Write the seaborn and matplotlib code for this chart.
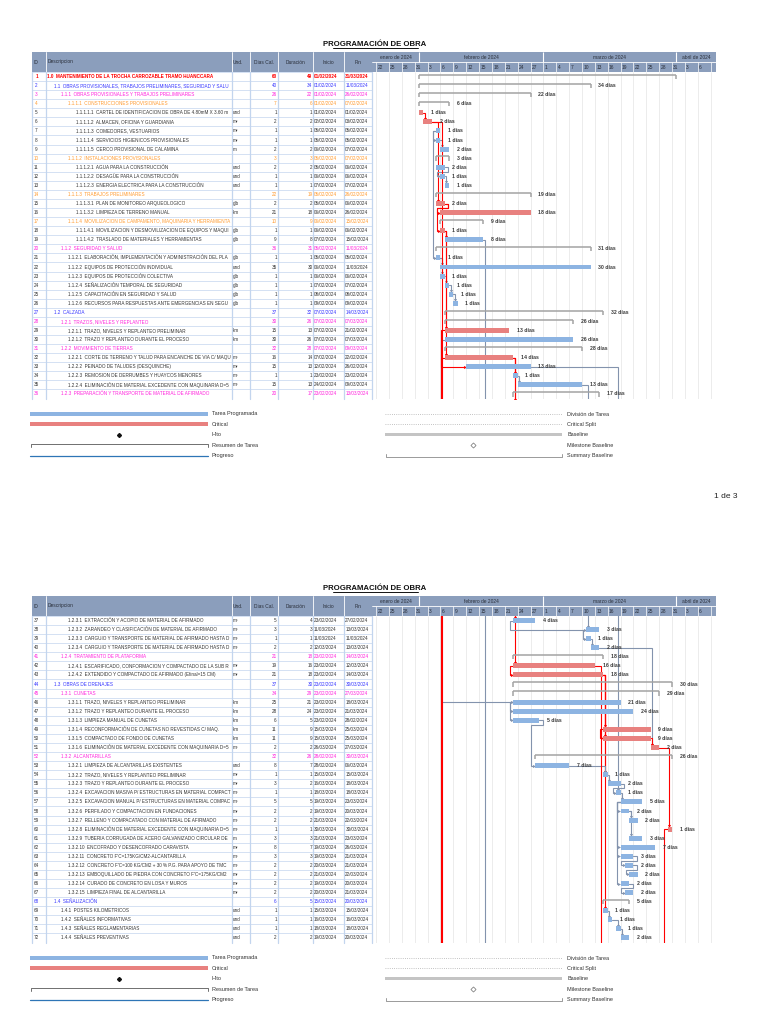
import numpy as np
import pandas as pd
import matplotlib
matplotlib.use("Agg")
import matplotlib.pyplot as plt
import matplotlib.dates as mdates
from matplotlib.patches import Rectangle
import seaborn as sns

sns.set_theme(style="white")
plt.rcParams['font.family'] = ['Liberation Sans', 'DejaVu Sans']

# ------------------------------------------------------------------
# Datos del cronograma (leidos de la programacion de obra)
# ------------------------------------------------------------------
codigos = [
    "1.0", "1.1", "1.1.1", "1.1.1.1", "1.1.1.1.1", "1.1.1.1.2", "1.1.1.1.3", "1.1.1.1.4",
    "1.1.1.1.5", "1.1.1.2", "1.1.1.2.1", "1.1.1.2.2", "1.1.1.2.3", "1.1.1.3", "1.1.1.3.1",
    "1.1.1.3.2", "1.1.1.4", "1.1.1.4.1", "1.1.1.4.2", "1.1.2", "1.1.2.1", "1.1.2.2", "1.1.2.3",
    "1.1.2.4", "1.1.2.5", "1.1.2.6", "1.2", "1.2.1", "1.2.1.1", "1.2.1.2", "1.2.2", "1.2.2.1",
    "1.2.2.2", "1.2.2.3", "1.2.2.4", "1.2.3",
    "1.2.3.1", "1.2.3.2", "1.2.3.3", "1.2.3.4", "1.2.4", "1.2.4.1", "1.2.4.2", "1.3", "1.3.1",
    "1.3.1.1", "1.3.1.2", "1.3.1.3", "1.3.1.4", "1.3.1.5", "1.3.1.6", "1.3.2", "1.3.2.1",
    "1.3.2.2", "1.3.2.3", "1.3.2.4", "1.3.2.5", "1.3.2.6", "1.3.2.7", "1.3.2.8", "1.3.2.9",
    "1.3.2.10", "1.3.2.11", "1.3.2.12", "1.3.2.13", "1.3.2.14", "1.3.2.15", "1.4", "1.4.1",
    "1.4.2", "1.4.3", "1.4.4",
]

descripciones = [
    "MANTENIMIENTO DE LA TROCHA CARROZABLE TRAMO HUANCCARA",
    "OBRAS PROVISIONALES, TRABAJOS PRELIMINARES, SEGURIDAD Y SALUD.",
    "OBRAS PROVISIONALES Y TRABAJOS PRELIMINARES",
    "CONSTRUCCIONES PROVISIONALES",
    "CARTEL DE IDENTIFICACION DE OBRA DE 4.80mM X 3.60 m",
    "ALMACEN, OFICINA Y GUARDIANIA",
    "COMEDORES, VESTUARIOS",
    "SERVICIOS HIGIENICOS PROVISIONALES",
    "CERCO PROVISIONAL DE CALAMINA",
    "INSTALACIONES PROVISIONALES",
    "AGUA PARA LA CONSTRUCCIÓN",
    "DESAGÜE PARA LA CONSTRUCCIÓN",
    "ENERGIA ELECTRICA PARA LA CONSTRUCCIÓN",
    "TRABAJOS PRELIMINARES",
    "PLAN DE MONITOREO ARQUEOLOGICO",
    "LIMPIEZA DE TERRENO MANUAL",
    "MOVILIZACION DE CAMPAMENTO, MAQUINARIA Y HERRAMIENTAS",
    "MOVILIZACION Y DESMOVILIZACION DE EQUIPOS Y MAQUINARIA",
    "TRASLADO DE MATERIALES Y HERRAMIENTAS",
    "SEGURIDAD Y SALUD",
    "ELABORACIÓN, IMPLEMENTACIÓN Y ADMINISTRACIÓN DEL PLAN DE SEGURIDAD",
    "EQUIPOS DE PROTECCIÓN INDIVIDUAL",
    "EQUIPOS DE PROTECCIÓN COLECTIVA",
    "SEÑALIZACIÓN TEMPORAL DE SEGURIDAD",
    "CAPACITACIÓN EN SEGURIDAD Y SALUD",
    "RECURSOS PARA RESPUESTAS ANTE EMERGENCIAS EN SEGURIDAD",
    "CALZADA",
    "TRAZOS, NIVELES Y REPLANTEO",
    "TRAZO, NIVELES Y REPLANTEO PRELIMINAR",
    "TRAZO Y REPLANTEO DURANTE EL PROCESO",
    "MOVIMIENTO DE TIERRAS",
    "CORTE DE TERRENO Y TALUD PARA ENCANCHE DE VIA C/ MAQUINARIA",
    "PEINADO DE TALUDES (DESQUINCHE)",
    "REMOSION DE DERRUMBES Y HUAYCOS MENORES",
    "ELIMINACIÓN DE MATERIAL EXCEDENTE CON MAQUINARIA D=5 KM",
    "PREPARACIÓN Y TRANSPORTE DE MATERIAL DE AFIRMADO",
    "EXTRACCIÓN Y ACOPIO DE MATERIAL DE AFIRMADO",
    "ZARANDEO Y CLASIFICACIÓN DE MATERIAL DE AFIRMADO",
    "CARGUIO Y TRANSPORTE DE MATERIAL DE AFIRMADO HASTA D=1KM",
    "CARGUIO Y TRANSPORTE DE MATERIAL DE AFIRMADO HASTA D=5KM",
    "TRATAMIENTO DE PLATAFORMA",
    "ESCARIFICADO, CONFORMACION Y COMPACTADO DE LA SUB RASANTE",
    "EXTENDIDO Y COMPACTADO DE AFIRMADO (Efinal=15 CM)",
    "OBRAS DE DRENAJES",
    "CUNETAS",
    "TRAZO, NIVELES Y REPLANTEO PRELIMINAR",
    "TRAZO Y REPLANTEO DURANTE EL PROCESO",
    "LIMPIEZA MANUAL DE CUNETAS",
    "RECONFORMACIÓN DE CUNETAS NO REVESTIDAS C/ MAQ.",
    "COMPACTADO DE FONDO DE CUNETAS",
    "ELIMINACIÓN DE MATERIAL EXCEDENTE CON MAQUINARIA D=5 KM",
    "ALCANTARILLAS",
    "LIMPIEZA DE ALCANTARILLAS EXISTENTES",
    "TRAZO, NIVELES Y REPLANTEO PRELIMINAR",
    "TRAZO Y REPLANTEO DURANTE EL PROCESO",
    "EXCAVACION MASIVA P/ ESTRUCTURAS EN MATERIAL COMPACTO",
    "EXCAVACION MANUAL P/ ESTRUCTURAS EN MATERIAL COMPACTO",
    "PERFILADO Y COMPACTACION EN FUNDACIONES",
    "RELLENO Y COMPACATADO CON MATERIAL DE AFIRMADO",
    "ELIMINACIÓN DE MATERIAL EXCEDENTE CON MAQUINARIA D=5 KM",
    "TUBERIA CORRUGADA DE ACERO GALVANIZADO CIRCULAR DE D=24\"",
    "ENCOFRADO Y DESENCOFRADO CARAVISTA",
    "CONCRETO F'C=175KG/CM2-ALCANTARILLA",
    "CONCRETO F'C=100 KG/CM2 + 30 % P.G. PARA APOYO DE TMC",
    "EMBOQUILLADO DE PIEDRA CON CONCRETO F'C=175KG/CM2 E=0.15M",
    "CURADO DE CONCRETO EN LOSA Y MUROS",
    "LIMPIEZA FINAL DE ALCANTARILLA",
    "SEÑALIZACIÓN",
    "POSTES KILOMETRICOS",
    "SEÑALES INFORMATIVAS",
    "SEÑALES REGLAMENTARIAS",
    "SEÑALES PREVENTIVAS",
]

unidades = [
    "", "", "", "", "und", "m²", "m²", "m²", "m", "", "und", "und", "und", "", "glb", "km",
    "", "glb", "glb", "", "glb", "und", "glb", "glb", "glb", "glb", "", "", "km", "km", "",
    "m³", "m²", "m³", "m³", "",
    "m³", "m³", "m³", "m³", "", "m²", "m²", "", "", "km", "km", "km", "km", "km", "m³", "",
    "und", "m²", "m²", "m³", "m³", "m²", "m³", "m³", "m", "m²", "m³", "m³", "m²", "m²", "m²",
    "", "und", "und", "und", "und",
]

dias_cal = [
    60, 40, 26, 7, 1, 2, 1, 1, 2, 3, 2, 1, 1, 22, 2, 21, 10, 1, 9, 36, 1, 35, 1, 1, 1, 1,
    37, 30, 15, 30, 32, 16, 15, 1, 15, 20,
    5, 3, 1, 2, 21, 19, 21, 37, 34, 25, 28, 6, 11, 11, 2, 32, 8, 1, 3, 1, 5, 2, 2, 1, 3,
    8, 3, 2, 2, 2, 2, 6, 1, 1, 1, 2,
]

duracion = [
    49, 34, 22, 6, 1, 2, 1, 1, 2, 3, 2, 1, 1, 19, 2, 18, 9, 1, 8, 31, 1, 30, 1, 1, 1, 1,
    32, 26, 13, 26, 28, 14, 13, 1, 13, 17,
    4, 3, 1, 2, 18, 16, 18, 30, 29, 21, 24, 5, 9, 9, 2, 26, 7, 1, 2, 1, 5, 2, 2, 1, 3,
    7, 3, 2, 2, 2, 2, 5, 1, 1, 1, 2,
]

inicio = [
    "01/02/2024", "01/02/2024", "01/02/2024", "01/02/2024", "01/02/2024", "02/02/2024",
    "05/02/2024", "05/02/2024", "06/02/2024", "05/02/2024", "05/02/2024", "06/02/2024",
    "07/02/2024", "05/02/2024", "05/02/2024", "06/02/2024", "06/02/2024", "06/02/2024",
    "07/02/2024", "05/02/2024", "05/02/2024", "06/02/2024", "06/02/2024", "07/02/2024",
    "08/02/2024", "09/02/2024", "07/02/2024", "07/02/2024", "07/02/2024", "07/02/2024",
    "07/02/2024", "07/02/2024", "12/02/2024", "23/02/2024", "24/02/2024", "23/02/2024",
    "23/02/2024", "11/03/2024", "11/03/2024", "12/03/2024", "23/02/2024", "23/02/2024",
    "23/02/2024", "23/02/2024", "23/02/2024", "23/02/2024", "23/02/2024", "23/02/2024",
    "15/03/2024", "15/03/2024", "26/03/2024", "28/02/2024", "28/02/2024", "15/03/2024",
    "16/03/2024", "18/03/2024", "19/03/2024", "19/03/2024", "21/03/2024", "30/03/2024",
    "21/03/2024", "19/03/2024", "19/03/2024", "20/03/2024", "21/03/2024", "19/03/2024",
    "20/03/2024", "15/03/2024", "15/03/2024", "16/03/2024", "18/03/2024", "19/03/2024",
]

fin = [
    "31/03/2024", "11/03/2024", "26/02/2024", "07/02/2024", "01/02/2024", "03/02/2024",
    "05/02/2024", "05/02/2024", "07/02/2024", "07/02/2024", "06/02/2024", "06/02/2024",
    "07/02/2024", "26/02/2024", "06/02/2024", "26/02/2024", "15/02/2024", "06/02/2024",
    "15/02/2024", "11/03/2024", "05/02/2024", "11/03/2024", "06/02/2024", "07/02/2024",
    "08/02/2024", "09/02/2024", "14/03/2024", "07/03/2024", "21/02/2024", "07/03/2024",
    "09/03/2024", "22/02/2024", "26/02/2024", "23/02/2024", "09/03/2024", "13/03/2024",
    "27/02/2024", "13/03/2024", "11/03/2024", "13/03/2024", "14/03/2024", "12/03/2024",
    "14/03/2024", "30/03/2024", "27/03/2024", "18/03/2024", "21/03/2024", "28/02/2024",
    "25/03/2024", "25/03/2024", "27/03/2024", "30/03/2024", "06/03/2024", "15/03/2024",
    "18/03/2024", "18/03/2024", "23/03/2024", "20/03/2024", "22/03/2024", "30/03/2024",
    "23/03/2024", "26/03/2024", "21/03/2024", "21/03/2024", "22/03/2024", "20/03/2024",
    "21/03/2024", "20/03/2024", "15/03/2024", "16/03/2024", "18/03/2024", "20/03/2024",
]

resumen_ids = [1, 2, 3, 4, 10, 14, 17, 20, 27, 28, 31, 36, 41, 44, 45, 52, 68]
criticas_ids = [5, 6, 15, 16, 18, 29, 32, 42, 43, 49, 50, 51, 60]

# vinculos (predecesora, sucesora, tipo)
enlaces = [
    (5, 6, 'FS'), (6, 15, 'FS'), (15, 16, 'FS'), (15, 18, 'FS'), (18, 19, 'FS'),
    (7, 8, 'SS'), (7, 21, 'SS'), (8, 9, 'FS'), (11, 12, 'FS'), (12, 13, 'FS'),
    (21, 22, 'FS'), (21, 23, 'FS'), (23, 24, 'FS'), (24, 25, 'FS'), (25, 26, 'FS'),
    (18, 29, 'FS'), (18, 32, 'FS'), (32, 33, 'SS'), (32, 34, 'FS'), (34, 35, 'FS'),
    (32, 37, 'FS'), (32, 42, 'FS'), (30, 46, 'SS'), (33, 56, 'FS'), (35, 38, 'FS'),
    (37, 38, 'SS'), (38, 39, 'SS'), (39, 40, 'FS'), (40, 51, 'FS'), (42, 43, 'SS'),
    (43, 49, 'FS'), (43, 50, 'FS'), (43, 54, 'FS'), (43, 69, 'FS'), (46, 47, 'SS'),
    (46, 48, 'SS'), (48, 53, 'FS'), (53, 54, 'FS'), (49, 50, 'SS'), (50, 51, 'FS'),
    (51, 60, 'FS'), (54, 55, 'FS'), (55, 56, 'FS'), (56, 57, 'FS'), (57, 58, 'SS'),
    (57, 62, 'SS'), (57, 63, 'SS'), (57, 66, 'SS'), (58, 59, 'FS'), (58, 61, 'FS'),
    (63, 64, 'FS'), (64, 65, 'FS'), (66, 67, 'FS'), (69, 70, 'FS'), (70, 71, 'FS'),
    (71, 72, 'FS'),
]
# vinculos hacia tareas de la pagina 3 (predecesora, tipo, inicio sucesora)
enlaces_pag3 = [
    (6, 'FS', "06/02/2024"), (19, 'FS', "16/02/2024"), (29, 'SS', "07/02/2024"),
    (42, 'FS', "14/03/2024"), (60, 'SS', "30/03/2024"),
]

meses = ["enero de 2024", "febrero de 2024", "marzo de 2024", "abril de 2024"]
inicio_meses = ["01/01/2024", "01/02/2024", "01/03/2024", "01/04/2024", "01/05/2024"]

columnas = ["ID", "Descripcion", "Und.", "Dias Cal.", "Duración", "Inicio", "Fin"]
leyenda_izq = ["Tarea Programada", "Critical", "Hito", "Resumen de Tarea", "Progreso"]
leyenda_der = ["División de Tarea", "Critical Split", "Baseline", "Milestone Baseline",
               "Summary Baseline"]

# ------------------------------------------------------------------
# Preparacion
# ------------------------------------------------------------------
df = pd.DataFrame({
    'id': np.arange(1, len(codigos) + 1), 'codigo': codigos, 'desc': descripciones,
    'und': unidades, 'dias': dias_cal, 'dur': duracion, 'inicio': inicio, 'fin': fin,
})
df['x0'] = mdates.date2num(pd.to_datetime(df['inicio'], format='%d/%m/%Y'))
df['x1'] = mdates.date2num(pd.to_datetime(df['fin'], format='%d/%m/%Y') + pd.Timedelta(days=1))
df['nivel'] = [0 if c == "1.0" else c.count('.') for c in df['codigo']]
df['resumen'] = df['id'].isin(resumen_ids)
df['critica'] = df['id'].isin(criticas_ids)
x0_de = dict(zip(df['id'], df['x0']))
x1_de = dict(zip(df['id'], df['x1']))
crit_de = dict(zip(df['id'], df['critica']))

# colores
AZUL = '#8db4e2'
ROJO = '#e8817f'
GRIS_RES = '#a3a3a3'
GRIS_ENL = '#8393ad'
ROJO_ENL = '#ff0000'
CAB_COLOR = '#8b9ebc'
LINEA_TAB = '#c3d5ee'
TXT = '#333333'
COLOR_NIVEL = {0: '#ff0000', 1: '#3535ff', 2: '#ff22dd', 3: '#ff9a2e'}

# geometria en pixeles
W, H = 768, 1024
FILA = 9.07
CAB = 20
BORDES = [32, 46, 232, 250, 278, 313, 344, 372]
GX0, GX1 = 372, 716
XA = mdates.date2num(pd.Timestamp('2024-01-21 01:00'))
XB = mdates.date2num(pd.Timestamp('2024-04-10 06:00'))
ticks = mdates.date2num(pd.date_range('2024-01-19', '2024-04-12', freq='3D'))
x_meses = mdates.date2num(pd.to_datetime(inicio_meses, format='%d/%m/%Y'))

FS_TAB = 3.3
FS_LBL = 3.7
FS_CAB = 3.5

fig = plt.figure(figsize=(7.68, 10.24), dpi=100)
renderer = fig.canvas.get_renderer()
fondo = fig.add_axes([0, 0, 1, 1])
fondo.set_xlim(0, W)
fondo.set_ylim(H, 0)
fondo.axis('off')


def px_ax(x, y, w, h):
    ax = fig.add_axes([x / W, 1 - (y + h) / H, w / W, h / H])
    ax.axis('off')
    return ax


def recortar(t, limite):
    # corta el texto en el borde de la columna, como en la tabla original
    s = t.get_text()
    while s and t.get_window_extent(renderer).x1 > limite:
        s = s[:-1]
        t.set_text(s)


def trazo(xps, xpe, yp, xs, ys, tipo):
    if tipo == 'SS':
        xv = xps - 0.8
        return [xps, xv, xv, xs - 0.3], [yp, yp, ys, ys], '>'
    if xs >= xpe - 0.01:
        xv = xs + 0.35
        return [xpe, xv, xv], [yp, yp, ys - 0.32], 'v'
    xr, xl, ym = xpe + 0.8, xs - 0.8, yp + 0.5
    return [xpe, xr, xr, xl, xl, xs - 0.3], [yp, yp, ym, ym, ys, ys], '>'


def dibujar_enlaces(ax):
    todos = [(p, t, x0_de[s], s) for p, s, t in enlaces]
    todos += [(p, t, mdates.date2num(pd.to_datetime(d, format='%d/%m/%Y')), 80)
              for p, t, d in enlaces_pag3]
    for p, t, xs, ys in todos:
        xx, yy, m = trazo(x0_de[p], x1_de[p], p, xs, ys, t)
        c = ROJO_ENL if crit_de[p] else GRIS_ENL
        ax.plot(xx, yy, color=c, lw=0.8, zorder=2, solid_joinstyle='miter')
        ax.plot(xx[-1], yy[-1], marker=m, color=c, ms=2.2, mew=0, zorder=2)


def dibujar_pagina(p):
    dy = 544 * p
    filas = df[(df['id'] > 36 * p) & (df['id'] <= 36 * (p + 1))]
    primero, ultimo = filas['id'].min(), filas['id'].max()
    y_cab, y_cuerpo = 52 + dy, 72 + dy
    alto = len(filas) * FILA
    ylim = (ultimo + 0.5, primero - 0.5)

    # titulo
    fondo.text(375, 44 + dy, "PROGRAMACIÓN DE OBRA", ha='center', va='center',
               fontsize=5.6, fontweight='bold', color='#111111')
    fondo.plot([333, 418], [47.8 + dy] * 2, color='#111111', lw=0.7)

    # cabecera de la tabla
    fondo.add_patch(Rectangle((BORDES[0], y_cab), BORDES[-1] - BORDES[0], CAB,
                              color=CAB_COLOR, lw=0))
    for xb in BORDES[1:-1]:
        fondo.plot([xb, xb], [y_cab, y_cab + CAB], color='white', lw=0.6)
    for xb in BORDES:
        fondo.plot([xb, xb], [y_cuerpo, y_cuerpo + alto], color=LINEA_TAB, lw=0.9)
    pos_cab = [(34, 'left'), (48, 'left'), (233, 'left'), (264, 'center'),
               (295.5, 'center'), (328.5, 'center'), (358, 'center')]
    for nombre, (xt, al) in zip(columnas, pos_cab):
        fondo.text(xt, y_cab + CAB / 2, nombre, ha=al, va='center', fontsize=FS_CAB,
                   color='#2a2f3a')

    # columnas de la tabla
    for j in range(len(columnas)):
        xa, xb = BORDES[j], BORDES[j + 1]
        ax = px_ax(xa, y_cuerpo, xb - xa, alto)
        ax.set_xlim(xa, xb)
        ax.set_ylim(*ylim)
        ax.hlines(np.arange(primero - 0.5, ultimo + 1.0), xa, xb, color=LINEA_TAB, lw=0.5)
        for _, r in filas.iterrows():
            col = COLOR_NIVEL[r['nivel']] if r['resumen'] else TXT
            peso = 'bold' if r['nivel'] == 0 else 'normal'
            kw = dict(va='center', fontsize=FS_TAB, color=col, fontweight=peso)
            if j == 0:
                ax.text(36.5, r['id'], str(r['id']), ha='center', **kw)
            elif j == 1:
                t = ax.text(47.5 + 7 * r['nivel'], r['id'], f"{r['codigo']}  {r['desc']}",
                            ha='left', **kw)
                recortar(t, xb - 0.6)
            elif j == 2:
                ax.text(233, r['id'], r['und'], ha='left', **kw)
            elif j == 3:
                ax.text(276.8, r['id'], str(r['dias']), ha='right', **kw)
            elif j == 4:
                ax.text(312.4, r['id'], str(r['dur']), ha='right', **kw)
            elif j == 5:
                t = ax.text(313.8, r['id'], r['inicio'], ha='left', **kw)
                recortar(t, xb - 0.3)
            else:
                t = ax.text(345.3, r['id'], r['fin'], ha='left', **kw)
                recortar(t, xb - 0.2)

    # cabecera del diagrama
    axh = px_ax(GX0, y_cab, GX1 - GX0, CAB)
    axh.set_xlim(XA, XB)
    axh.set_ylim(2, 0)
    axh.axhspan(0, 2, color=CAB_COLOR, lw=0)
    axh.axhline(1, color='white', lw=0.6)
    axh.vlines(x_meses, 0, 1, color='white', lw=0.8)
    axh.vlines(ticks, 1, 2, color='white', lw=0.5)
    for nombre, a, b in zip(meses, x_meses[:-1], x_meses[1:]):
        xc = (max(a, XA) + min(b, XB)) / 2
        axh.text(xc, 0.52, nombre, ha='center', va='center', fontsize=FS_CAB, color='#2a2f3a')
    for t in ticks:
        if XA <= t + 0.3 <= XB - 1.2:
            axh.text(t + 0.3, 1.52, str(mdates.num2date(t).day), ha='left', va='center',
                     fontsize=FS_CAB, color='#2a2f3a')

    # cuerpo del diagrama
    ax = px_ax(GX0, y_cuerpo, GX1 - GX0, alto)
    ax.set_xlim(XA, XB)
    ax.set_ylim(*ylim)
    ax.vlines(ticks, ylim[1], ylim[0], color='#e4e4e4', lw=0.5, zorder=0)

    tareas = df[~df['resumen']]
    ax.barh(tareas['id'], tareas['x1'] - tareas['x0'], left=tareas['x0'], height=0.55,
            color=np.where(tareas['critica'], ROJO, AZUL), lw=0, zorder=3)
    res = df[df['resumen']]
    ax.hlines(res['id'] - 0.2, res['x0'], res['x1'], color=GRIS_RES, lw=1.1, zorder=3)
    ax.vlines(res['x0'], res['id'] - 0.2, res['id'] + 0.28, color=GRIS_RES, lw=1.1, zorder=3)
    ax.vlines(res['x1'], res['id'] - 0.2, res['id'] + 0.28, color=GRIS_RES, lw=1.1, zorder=3)
    for _, r in filas[filas['nivel'] > 0].iterrows():
        ax.text(r['x1'] + 1.8, r['id'], f"{r['dur']} días", ha='left', va='center',
                fontsize=FS_LBL, color='#3a3a3a', fontweight='bold', zorder=4)
    dibujar_enlaces(ax)

    # leyenda
    ys = 414 + dy + np.arange(5) * 10.4
    fondo.add_patch(Rectangle((30, ys[0] - 2), 178, 4, color=AZUL, lw=0))
    fondo.add_patch(Rectangle((30, ys[1] - 2), 178, 4, color=ROJO, lw=0))
    fondo.plot(119, ys[2], marker='D', color='#111111', ms=2.0)
    fondo.plot([30.5, 30.5, 207.5, 207.5], [ys[3] + 1.8, ys[3] - 1.2, ys[3] - 1.2, ys[3] + 1.8],
               color='#6f6f6f', lw=0.7)
    fondo.plot([30, 208], [ys[4], ys[4]], color='#2e75b6', lw=0.9)
    fondo.plot([385, 562], [ys[0], ys[0]], color='#b0b0b0', lw=0.6, ls=(0, (1, 1.6)))
    fondo.plot([385, 562], [ys[1], ys[1]], color='#b0b0b0', lw=0.6, ls=(0, (1, 1.6)))
    fondo.add_patch(Rectangle((385, ys[2] - 1.5), 177, 3, color='#c4c4c4', lw=0))
    fondo.plot(473, ys[3], marker='D', mfc='white', mec='#6f6f6f', mew=0.5, ms=2.6)
    fondo.plot([385.5, 385.5, 561.5, 561.5], [ys[4] - 1.8, ys[4] + 1.2, ys[4] + 1.2, ys[4] - 1.8],
               color='#9a9a9a', lw=0.7)
    for k in range(5):
        fondo.text(212, ys[k], leyenda_izq[k], ha='left', va='center', fontsize=4.0, color=TXT)
        fondo.text(567, ys[k], leyenda_der[k], ha='left', va='center', fontsize=4.0, color=TXT)


dibujar_pagina(0)
dibujar_pagina(1)
fondo.text(738, 497, "1 de 3", ha='right', va='center', fontsize=6.0, color='#222222')

fig.savefig('out.png', dpi=100, facecolor='white')
